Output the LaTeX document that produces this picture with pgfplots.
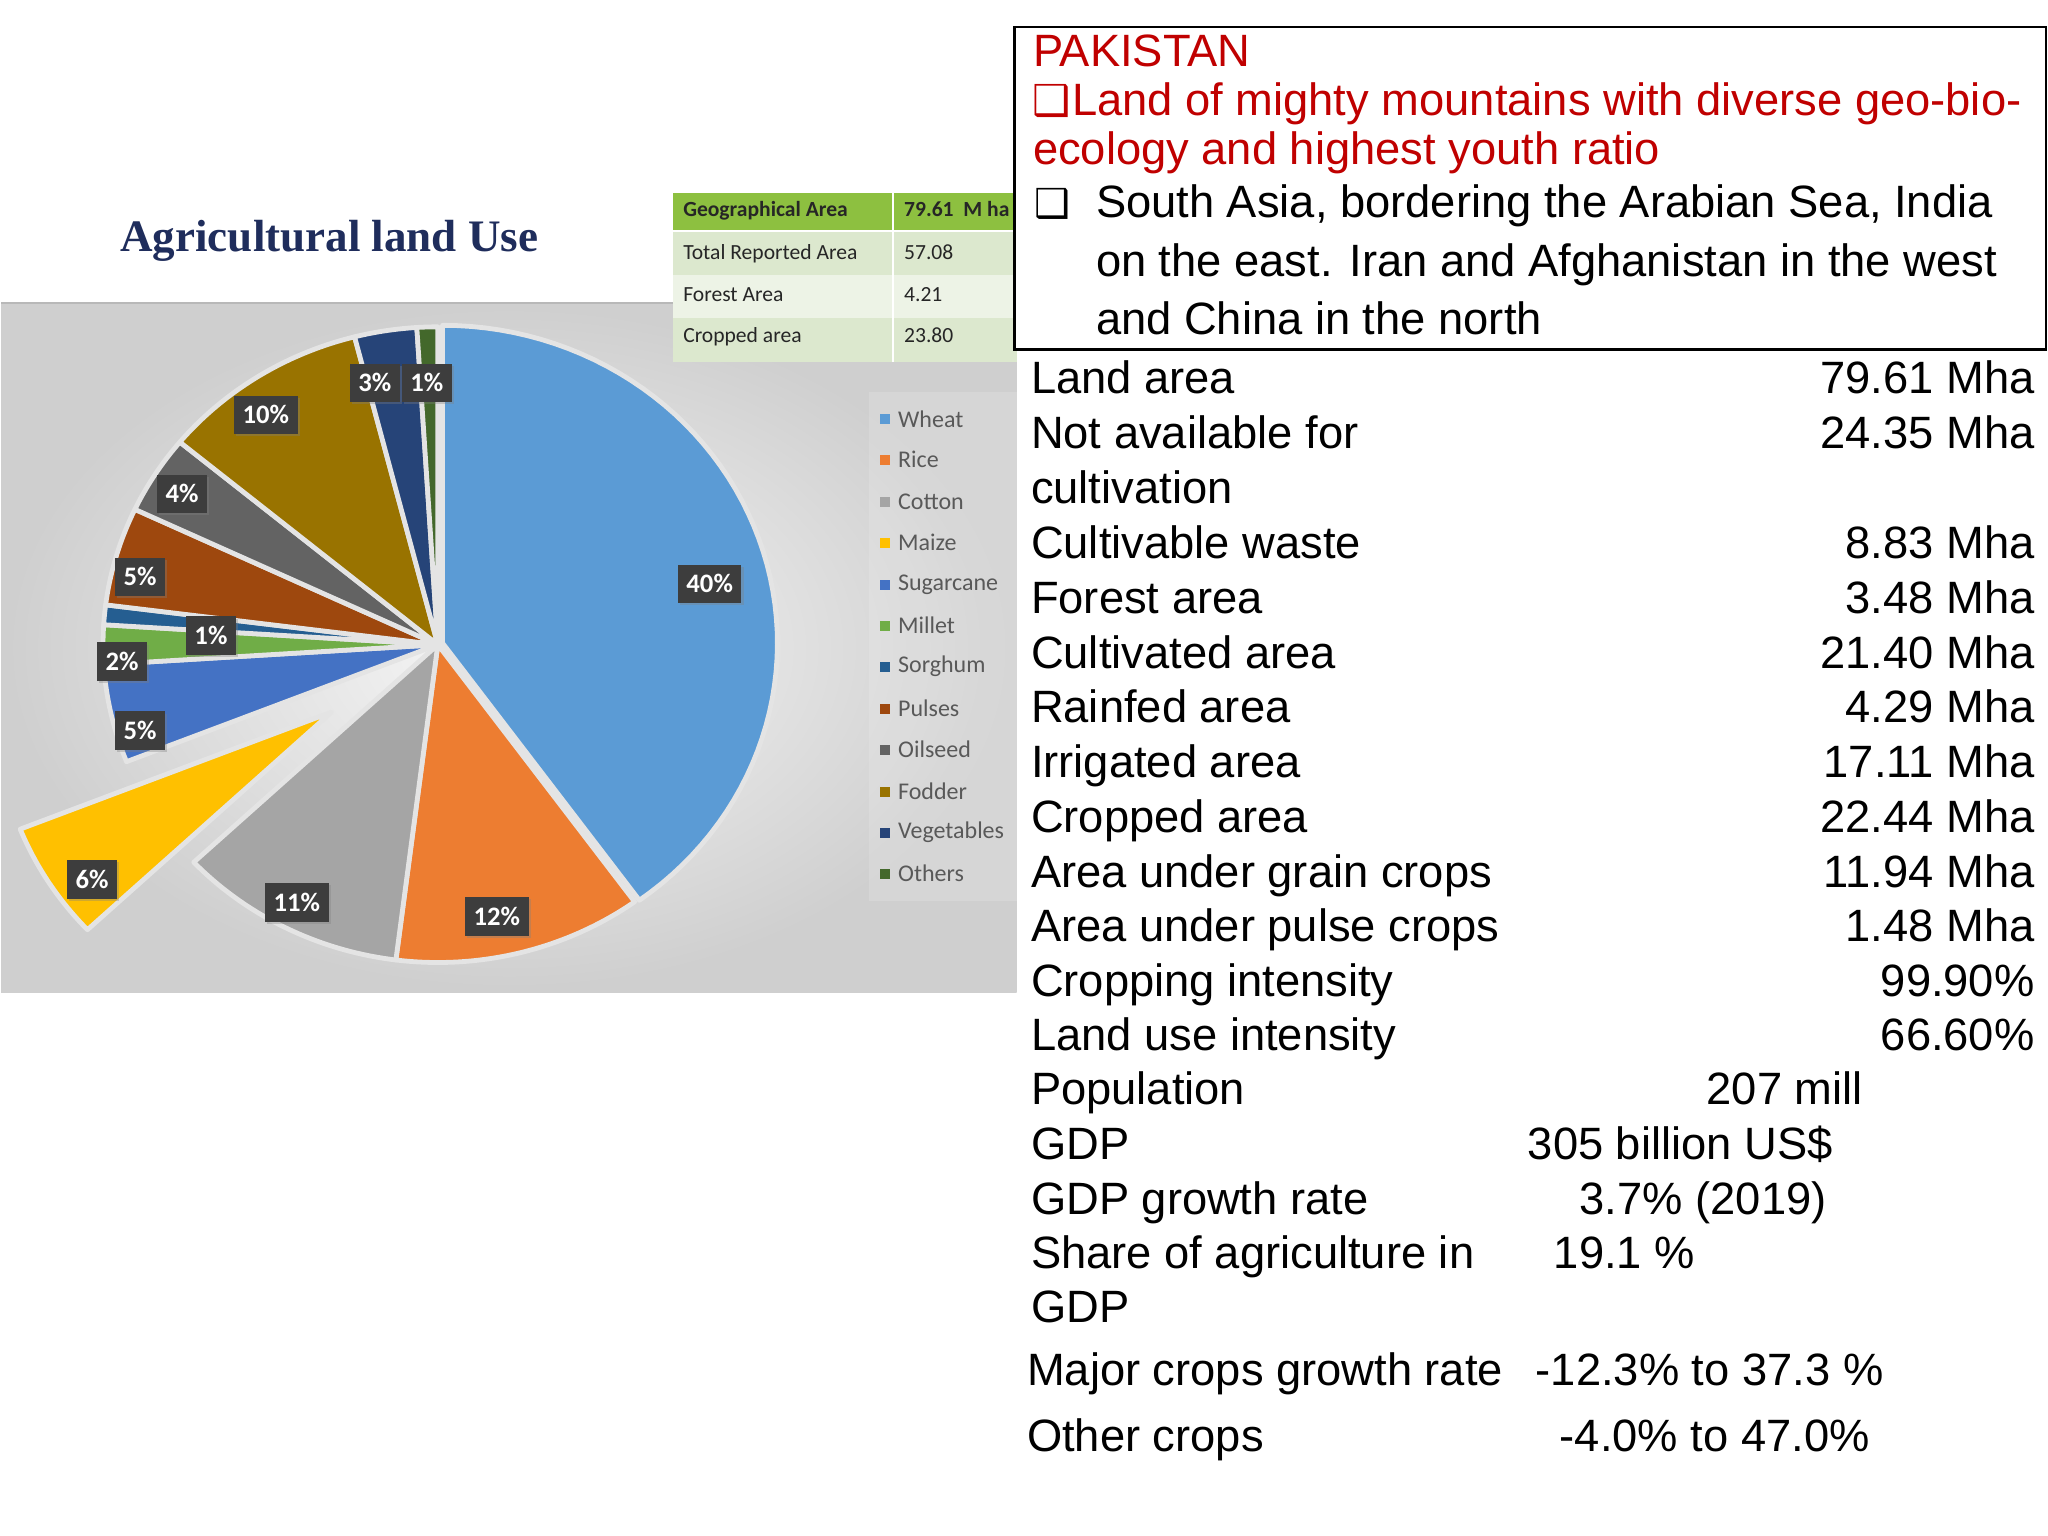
\documentclass[border=0pt]{standalone}
\usepackage{pgfplots}
\pgfplotsset{compat=1.18}
\usepackage{fontspec}
\setmainfont{Liberation Sans}
\newfontfamily\serifT{Liberation Serif}
\newfontfamily\calf{Carlito}
\newfontfamily\djf{DejaVu Sans}
\usetikzlibrary{shadows}

\definecolor{cWheat}{HTML}{5B9BD5}
\definecolor{cRice}{HTML}{ED7D31}
\definecolor{cCotton}{HTML}{A5A5A5}
\definecolor{cMaize}{HTML}{FFC000}
\definecolor{cSugar}{HTML}{4472C4}
\definecolor{cMillet}{HTML}{70AD47}
\definecolor{cSorghum}{HTML}{255E91}
\definecolor{cPulses}{HTML}{9E480E}
\definecolor{cOilseed}{HTML}{636363}
\definecolor{cFodder}{HTML}{997300}
\definecolor{cVeg}{HTML}{264478}
\definecolor{cOthers}{HTML}{43682B}
\definecolor{sliceedge}{HTML}{E4E4E4}
\definecolor{labbg}{HTML}{3D3D3D}
\definecolor{titlecol}{HTML}{1F2D5C}
\definecolor{redtxt}{HTML}{C00000}
\definecolor{hdrgreen}{HTML}{8DC040}
\definecolor{rowA}{HTML}{DCE8CE}
\definecolor{rowB}{HTML}{EDF3E6}
\definecolor{legtxt}{HTML}{595959}

\newcommand\bigf{\fontsize{17}{20}\selectfont}

% pie slice: value (percent), colour, explode distance (px)
\gdef\cum{0}
\newcommand\slice[3]{%
  \pgfmathsetmacro\slA{\cum}%
  \pgfmathsetmacro\slB{\cum+#1}%
  \pgfmathsetmacro\slM{1.8*(\slA+\slB)}%
  \pgfmathsetmacro\slX{437+#3*sin(\slM)}%
  \pgfmathsetmacro\slY{645-#3*cos(\slM)}%
  \edef\slTemp{\noexpand\addplot[fill=#2, draw=sliceedge, line width=1.8pt, line join=round, domain=\slA:\slB, samples=60, variable=\noexpand\t] ({\slX+335*sin(3.6*\noexpand\t)}, {\slY-318*cos(3.6*\noexpand\t)}) -- (axis cs:\slX,\slY) -- cycle;}%
  \slTemp
  \global\let\cum\slB
}

\begin{document}
\begin{tikzpicture}
\begin{axis}[scale only axis, width=768pt, height=576pt,
  xmin=0, xmax=2048, ymin=0, ymax=1536, y dir=reverse,
  hide axis, clip=false]

% background
\fill[white] (axis cs:0,0) rectangle (axis cs:2048,1536);
% pie picture background
\shade[inner color=black!3, outer color=black!19] (axis cs:0,303) rectangle (axis cs:1016,993);
\draw[black!28, line width=0.8pt] (axis cs:0,303) -- (axis cs:672,303);
\fill[white, opacity=0.15] (axis cs:868,392) rectangle (axis cs:1016,901);

% title
\node[anchor=base west, font=\serifT\bfseries\fontsize{16.9}{20}\selectfont, text=titlecol] at (axis cs:110,252) {Agricultural land Use};

% pie chart (percent shares)
\slice{40}{cWheat}{5}
\slice{12}{cRice}{0}
\slice{11}{cCotton}{0}
\slice{6}{cMaize}{126}
\slice{5}{cSugar}{0}
\slice{2}{cMillet}{0}
\slice{1}{cSorghum}{0}
\slice{5}{cPulses}{0}
\slice{4}{cOilseed}{0}
\slice{10}{cFodder}{0}
\slice{3}{cVeg}{0}
\slice{1}{cOthers}{0}

% data labels
\tikzset{dl/.style={fill=labbg, text=white, font=\calf\bfseries\fontsize{10}{12}\selectfont, inner xsep=3.2pt, inner ysep=3.5pt, text height=7pt, text depth=0.4pt, drop shadow={opacity=0.35, shadow xshift=0.8pt, shadow yshift=-0.8pt}}}
\node[dl] at (axis cs:709,584) {40\%};
\node[dl] at (axis cs:496,917) {12\%};
\node[dl] at (axis cs:296,903) {11\%};
\node[dl] at (axis cs:91,880) {6\%};
\node[dl] at (axis cs:139,731) {5\%};
\node[dl] at (axis cs:121,662) {2\%};
\node[dl] at (axis cs:210,636) {1\%};
\node[dl] at (axis cs:139,577) {5\%};
\node[dl] at (axis cs:181,494) {4\%};
\node[dl] at (axis cs:265,415) {10\%};
\node[dl] at (axis cs:374,383) {3\%};
\node[dl] at (axis cs:426,383) {1\%};

% legend
\tikzset{lg/.style={anchor=west, text=legtxt, font=\calf\fontsize{9}{11}\selectfont, inner sep=0pt}}
\fill[cWheat]   (axis cs:879,414) rectangle (axis cs:889,424);   \node[lg] at (axis cs:897,419) {Wheat};
\fill[cRice]    (axis cs:879,455) rectangle (axis cs:889,465);   \node[lg] at (axis cs:897,460) {Rice};
\fill[cCotton]  (axis cs:879,497) rectangle (axis cs:889,507);   \node[lg] at (axis cs:897,502) {Cotton};
\fill[cMaize]   (axis cs:879,538) rectangle (axis cs:889,548);   \node[lg] at (axis cs:897,543) {Maize};
\fill[cSugar]   (axis cs:879,580) rectangle (axis cs:889,590);   \node[lg] at (axis cs:897,585) {Sugarcane};
\fill[cMillet]  (axis cs:879,621) rectangle (axis cs:889,631);   \node[lg] at (axis cs:897,626) {Millet};
\fill[cSorghum] (axis cs:879,662) rectangle (axis cs:889,672);   \node[lg] at (axis cs:897,667) {Sorghum};
\fill[cPulses]  (axis cs:879,704) rectangle (axis cs:889,714);   \node[lg] at (axis cs:897,709) {Pulses};
\fill[cOilseed] (axis cs:879,745) rectangle (axis cs:889,755);   \node[lg] at (axis cs:897,750) {Oilseed};
\fill[cFodder]  (axis cs:879,787) rectangle (axis cs:889,797);   \node[lg] at (axis cs:897,792) {Fodder};
\fill[cVeg]     (axis cs:879,828) rectangle (axis cs:889,838);   \node[lg] at (axis cs:897,833) {Vegetables};
\fill[cOthers]  (axis cs:879,869) rectangle (axis cs:889,879);   \node[lg] at (axis cs:897,874) {Others};

% green table
\fill[hdrgreen] (axis cs:672,193) rectangle (axis cs:1016,231);
\fill[rowA] (axis cs:672,231) rectangle (axis cs:1016,275);
\fill[rowB] (axis cs:672,275) rectangle (axis cs:1016,318);
\fill[rowA] (axis cs:672,318) rectangle (axis cs:1016,362);
\draw[white, line width=0.8pt] (axis cs:892,193) -- (axis cs:892,362);
\draw[white, line width=0.8pt] (axis cs:672,231) -- (axis cs:1016,231);
\tikzset{tb/.style={anchor=base west, text=black!85, font=\calf\fontsize{8.1}{10}\selectfont, inner sep=0pt}}
\node[tb, font=\calf\bfseries\fontsize{8.1}{10}\selectfont] at (axis cs:682,217) {Geographical Area};
\node[tb, font=\calf\bfseries\fontsize{8.1}{10}\selectfont] at (axis cs:903,217) {79.61\ \ M ha};
\node[tb] at (axis cs:682,260) {Total Reported Area};
\node[tb] at (axis cs:903,260) {57.08};
\node[tb] at (axis cs:682,302) {Forest Area};
\node[tb] at (axis cs:903,302) {4.21};
\node[tb] at (axis cs:682,343) {Cropped area};
\node[tb] at (axis cs:903,343) {23.80};

% right box
\draw[black, line width=1.1pt, fill=white] (axis cs:1014,27) rectangle (axis cs:2046,350);
\tikzset{tx/.style={anchor=base west, font=\bigf, inner sep=0pt}}
\node[tx, text=redtxt] at (axis cs:1032,67) {PAKISTAN};
\node[tx, text=redtxt, font=\djf\fontsize{16}{18}\selectfont] at (axis cs:1031,116) {❑};
\node[tx, text=redtxt] at (axis cs:1071,116) {Land of mighty mountains with diverse geo-bio-};
\node[tx, text=redtxt] at (axis cs:1032,165) {ecology and highest youth ratio};
\node[tx, font=\djf\fontsize{15}{18}\selectfont] at (axis cs:1033,218) {❑};
\node[tx] at (axis cs:1095,218) {South Asia, bordering the Arabian Sea, India};
\node[tx] at (axis cs:1095,277) {on the east. Iran and Afghanistan in the west};
\node[tx] at (axis cs:1095,335) {and China in the north};

% right table
\tikzset{tv/.style={anchor=base east, font=\bigf, inner sep=0pt}}
\node[tx] at (axis cs:1030,394) {Land area};               \node[tv] at (axis cs:2035,394) {79.61 Mha};
\node[tx] at (axis cs:1030,449) {Not available for};       \node[tv] at (axis cs:2035,449) {24.35 Mha};
\node[tx] at (axis cs:1030,504) {cultivation};
\node[tx] at (axis cs:1030,559) {Cultivable waste};        \node[tv] at (axis cs:2035,559) {8.83 Mha};
\node[tx] at (axis cs:1030,614) {Forest area};             \node[tv] at (axis cs:2035,614) {3.48 Mha};
\node[tx] at (axis cs:1030,669) {Cultivated area};         \node[tv] at (axis cs:2035,669) {21.40 Mha};
\node[tx] at (axis cs:1030,723) {Rainfed area};            \node[tv] at (axis cs:2035,723) {4.29 Mha};
\node[tx] at (axis cs:1030,778) {Irrigated area};          \node[tv] at (axis cs:2035,778) {17.11 Mha};
\node[tx] at (axis cs:1030,833) {Cropped area};            \node[tv] at (axis cs:2035,833) {22.44 Mha};
\node[tx] at (axis cs:1030,888) {Area under grain crops};  \node[tv] at (axis cs:2035,888) {11.94 Mha};
\node[tx] at (axis cs:1030,942) {Area under pulse crops};  \node[tv] at (axis cs:2035,942) {1.48 Mha};
\node[tx] at (axis cs:1030,997) {Cropping intensity};      \node[tv] at (axis cs:2035,997) {99.90\%};
\node[tx] at (axis cs:1030,1051) {Land use intensity};     \node[tv] at (axis cs:2035,1051) {66.60\%};
\node[tx] at (axis cs:1030,1105) {Population};             \node[tx] at (axis cs:1706,1105) {207 mill};
\node[tx] at (axis cs:1030,1160) {GDP};                    \node[tx] at (axis cs:1527,1160) {305 billion US\$};
\node[tx] at (axis cs:1030,1215) {GDP growth rate};        \node[tx] at (axis cs:1579,1215) {3.7\% (2019)};
\node[tx] at (axis cs:1030,1269) {Share of agriculture in};\node[tx] at (axis cs:1553,1269) {19.1 \%};
\node[tx] at (axis cs:1030,1323) {GDP};
\node[tx] at (axis cs:1026,1386) {Major crops growth rate}; \node[tx] at (axis cs:1535,1386) {-12.3\% to 37.3 \%};
\node[tx] at (axis cs:1026,1452) {Other crops};             \node[tx] at (axis cs:1559,1452) {-4.0\% to 47.0\%};

\end{axis}
\end{tikzpicture}
\end{document}
